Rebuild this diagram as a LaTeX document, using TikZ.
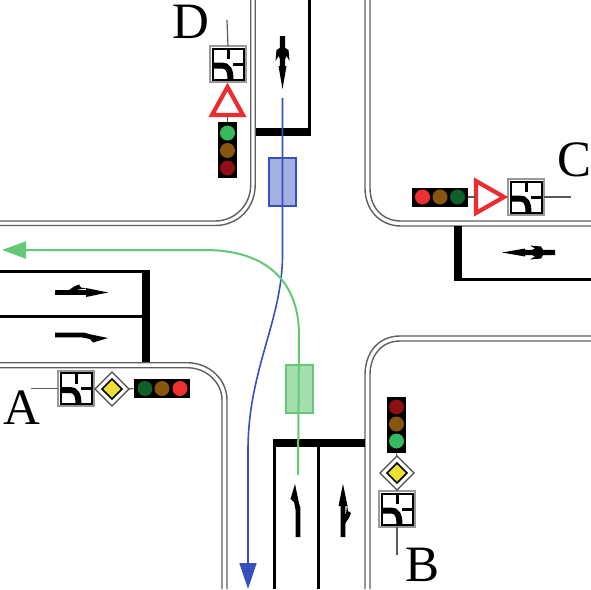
\documentclass[tikz,border=0pt]{standalone}
\usepackage{fontspec}
\setmainfont{Liberation Serif}
\usetikzlibrary{arrows.meta,calc}
\definecolor{curbgray}{RGB}{95,95,95}
\definecolor{sred}{RGB}{235,45,50}
\definecolor{lred}{RGB}{238,48,48}
\definecolor{dred}{RGB}{140,15,20}
\definecolor{lamber}{RGB}{135,85,15}
\definecolor{lgreen}{RGB}{55,185,95}
\definecolor{dgreen}{RGB}{15,95,40}
\definecolor{syellow}{RGB}{235,225,50}
\definecolor{routeblue}{RGB}{55,80,190}
\definecolor{routegreen}{RGB}{100,200,120}
\tikzset{
  curb/.style={draw=curbgray,line width=1.4pt},
  heavy/.style={draw=black,line width=8.5pt},
  lane/.style={draw=black,line width=3pt},
  post/.style={draw=black!65,line width=1.2pt},
  signbox/.style={draw=black!40,line width=1.6pt,fill=white,minimum size=35.5pt,inner sep=0pt,outer sep=0pt},
  lampbox/.style={fill=black,inner sep=0pt,outer sep=0pt},
  lamp/.style={circle,minimum size=15pt,inner sep=0pt},
  letter/.style={font=\fontsize{51}{51}\selectfont,inner sep=0pt},
  vehicleblue/.style={draw=routeblue,line width=1.1pt,fill=routeblue!45!white,minimum width=27pt,minimum height=48pt,inner sep=0pt},
  vehiclegreen/.style={draw=routegreen,line width=1.1pt,fill=routegreen!60!white,minimum width=27pt,minimum height=48pt,inner sep=0pt},
  routeb/.style={draw=routeblue,line width=1.6pt},
  routeg/.style={draw=routegreen,line width=2pt},
  pics/signmark/.style={code={
    \draw[black,line width=2pt] (-15.5,-15.5) rectangle (15.5,15.5);
    \draw[black,line width=3pt] (0,-16) -- (0,-5);
    \draw[black,line width=3pt] (5,0) -- (16,0);
    \draw[black,line width=6pt] (-15,1.5) -- (-6,1.5) .. controls (0,1.5) and (2.5,6) .. (2.5,16);
  }},
  pics/lanecurl/.style={code={
    \fill[black] (0,-2.4) -- (31,-2.4) -- (31,-4.5) -- (53,0) -- (31,4.5) -- (31,2.4) -- (0,2.4) -- cycle;
    \fill[black] (12,-1) -- (19,-6) -- (24,-8) -- (26,-5) -- (32,-4) -- (23,-3) -- (23,-1) -- cycle;
  }},
  pics/lanecross/.style={code={
    \fill[black] (0,-2.6) -- (30,-2.6) -- (30,-4) -- (53,0) -- (30,4) -- (30,2.6) -- (0,2.6) -- cycle;
    \fill[black] (11,-1) -- (14,-6) -- (25,-7) -- (20,-4) -- (26,-1) -- (26,1) -- (20,4) -- (25,7) -- (14,6) -- (11,1) -- cycle;
  }},
  pics/laneturn/.style={code={
    \fill[black] (0,-2.4) -- (29,-2.4) -- (36,-.5) -- (53,3) -- (38,7.5) -- (35,4) -- (27,2.4) -- (0,2.4) -- cycle;
  }},
}
\begin{document}
\begin{tikzpicture}[x=1pt,y=-1pt]
\useasboundingbox[fill=white] (0,0) rectangle (591,589);
% curbs
\draw[curb] (0,221) -- (215,221) .. controls (235,221) and (250.7,205) .. (250.7,185) -- (250.7,0);
\draw[curb] (0,225.5) -- (215,225.5) .. controls (238,225.5) and (255.2,208) .. (255.2,185) -- (255.2,0);
\draw[curb] (370,0) -- (370,188) .. controls (370,207) and (382,221) .. (401,221) -- (591,221);
\draw[curb] (365,0) -- (365,188) .. controls (365,210) and (380,226) .. (401,226) -- (591,226);
\draw[curb] (365,589) -- (365,375) .. controls (365,353) and (378,336) .. (400,336) -- (591,336);
\draw[curb] (370,589) -- (370,375) .. controls (370,356) and (381,341) .. (400,341) -- (591,341);
\draw[curb] (0,362.7) -- (187,362.7) .. controls (210,362.7) and (227,380) .. (227,400) -- (227,589);
\draw[curb] (0,367.7) -- (187,367.7) .. controls (207,367.7) and (222,383) .. (222,400) -- (222,589);
% lane markings
\draw[lane] (309,0) -- (309,133);
\draw[heavy] (256,132) -- (310.5,132);
\draw[lane] (591,279) -- (459,279);
\draw[heavy] (458,226) -- (458,280.5);
\draw[lane] (0,271) -- (150,271);
\draw[lane] (0,316) -- (146,316);
\draw[heavy] (146,269.5) -- (146,362);
\draw[heavy] (273,443) -- (365,443);
\draw[lane] (274,443) -- (274,589);
\draw[lane] (318,443) -- (318,589);
% lane arrows
\pic[rotate=-90] at (282.5,36) {lanecross};
\pic[rotate=180] at (555,252.5) {lanecross};
\pic at (55,292.5) {lanecurl};
\pic at (55,335) {laneturn};
\pic[rotate=90,yscale=-1] at (298,537) {laneturn};
\pic[rotate=90,yscale=-1] at (343,537) {lanecurl};
% vehicles
\node[vehicleblue] (carB) at (282.5,182) {};
\node[vehiclegreen] (carG) at (299.5,389) {};
% routes
\coordinate (blueS) at (282.5,98);
\coordinate (blueM) at (282.5,255);
\coordinate (blueL) at (248,450);
\coordinate (blueE) at (248,589);
\coordinate (greenS) at (298,475);
\coordinate (greenM) at (299,335);
\coordinate (greenL) at (205,250);
\coordinate (greenE) at (2,250);
\draw[routeb,-{Triangle[length=26pt,width=17pt]}] (blueS) -- (blueM) .. controls (282.5,320) and (248,370) .. (blueL) -- (blueE);
\draw[routeg,-{Triangle[length=24pt,width=17pt]}] (greenS) -- (greenM) .. controls (299,285) and (270,250) .. (greenL) -- (greenE);
% signal D
\node[signbox] (signD) at (228,64) {};
\pic at (signD) {signmark};
\coordinate (postD) at (227,20);
\draw[post] (postD) -- (signD.north);
\coordinate (triD1) at (227.5,87);
\coordinate (triD2) at (243,115);
\coordinate (triD3) at (212,115);
\draw[draw=sred,line width=4.2pt,fill=white,miter limit=10] (triD1) -- (triD2) -- (triD3) -- cycle;
\node[lampbox,minimum width=19pt,minimum height=56pt] (lightD) at (227.5,150) {};
\draw[post] (triD3 -| lightD) -- (lightD.north);
\node[lamp,fill=lgreen] (dA) at (227.5,133) {};
\node[lamp,fill=lamber] (dB) at (227.5,150.5) {};
\node[lamp,fill=dred] (dC) at (227.5,168) {};
% signal C
\node[signbox] (signC) at (526,197) {};
\pic at (signC) {signmark};
\coordinate (postC) at (571,197);
\draw[post] (signC.east) -- (postC);
\coordinate (triC1) at (504,197);
\coordinate (triC2) at (476,181);
\coordinate (triC3) at (476,213);
\draw[draw=sred,line width=4.2pt,fill=white,miter limit=10] (triC1) -- (triC2) -- (triC3) -- cycle;
\node[lampbox,minimum width=56pt,minimum height=19pt] (lightC) at (440,197) {};
\draw[post] (lightC.east) -- (triC2 |- lightC);
\node[lamp,fill=lred] (cA) at (422.5,197) {};
\node[lamp,fill=lamber] (cB) at (440,197) {};
\node[lamp,fill=dgreen] (cC) at (457.5,197) {};
% signal A
\node[signbox] (signA) at (76,388.5) {};
\pic at (signA) {signmark};
\coordinate (postA) at (31,388.5);
\draw[post] (postA) -- (signA.west);
\fill[white,draw=black!70,line width=1.2pt] (95,389) -- (112,372) -- (129,389) -- (112,406) -- cycle;
\fill[syellow,draw=black,line width=1.6pt] (102,389) -- (112,379) -- (122,389) -- (112,399) -- cycle;
\node[lampbox,minimum width=56pt,minimum height=19pt] (lightA) at (161.5,388.5) {};
\draw[post] (129,389) -- (lightA.west);
\node[lamp,fill=dgreen] (aA) at (145,388.5) {};
\node[lamp,fill=lamber] (aB) at (162,388.5) {};
\node[lamp,fill=lred] (aC) at (180,388.5) {};
% signal B
\node[signbox] (signB) at (397,509) {};
\pic at (signB) {signmark};
\coordinate (postB) at (397,555);
\draw[post] (signB.south) -- (postB);
\fill[white,draw=black!70,line width=1.2pt] (380,473) -- (397,456) -- (414,473) -- (397,490) -- cycle;
\fill[syellow,draw=black,line width=1.6pt] (387,473) -- (397,463) -- (407,473) -- (397,483) -- cycle;
\node[lampbox,minimum width=19pt,minimum height=56pt] (lightB) at (396.5,424.5) {};
\draw[post] (lightB.south) -- (396.5,456);
\node[lamp,fill=dred] (bA) at (396.5,407) {};
\node[lamp,fill=lamber] (bB) at (396.5,424) {};
\node[lamp,fill=lgreen] (bC) at (396.5,441) {};
% letters
\node[letter] (labA) at (22,408) {A};
\node[letter] (labB) at (423,565) {B};
\node[letter] (labC) at (574,160) {C};
\node[letter] (labD) at (191,22) {D};
\end{tikzpicture}
\end{document}
